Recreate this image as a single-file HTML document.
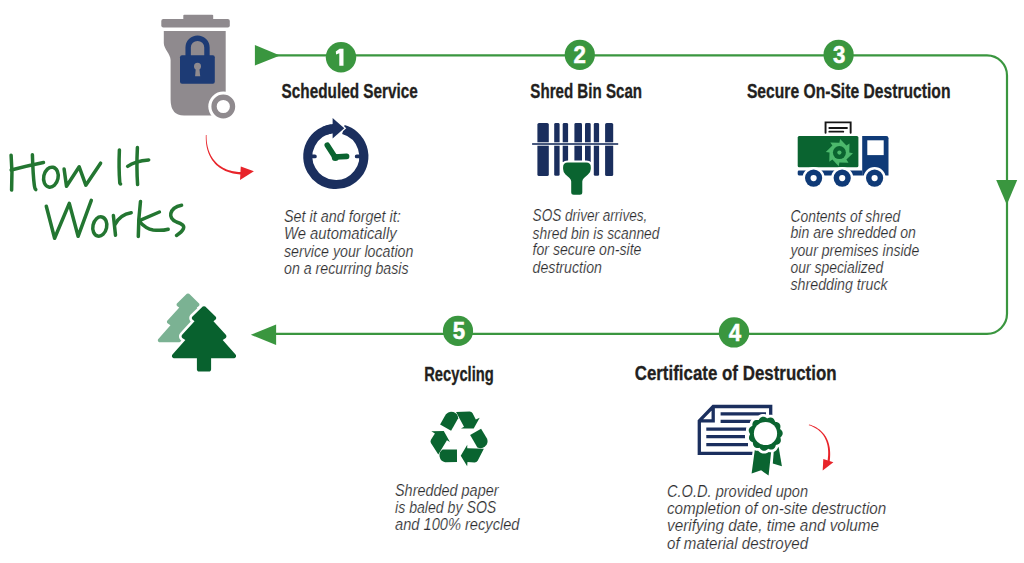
<!DOCTYPE html>
<html><head><meta charset="utf-8">
<style>
html,body{margin:0;padding:0;background:#fff;}
body{width:1024px;height:563px;overflow:hidden;position:relative;}
svg{position:absolute;left:0;top:0;}
.h{font-family:"Liberation Sans",sans-serif;font-weight:bold;font-size:19.5px;fill:#231f20;stroke:#231f20;stroke-width:0.3px;}
.b{font-family:"Liberation Sans",sans-serif;font-style:italic;font-size:16px;fill:#2c2c2e;stroke:#fff;stroke-width:0.18px;}
.n{font-family:"Liberation Sans",sans-serif;font-weight:bold;font-size:24.8px;fill:#fff;stroke:#fff;stroke-width:0.5px;}
</style></head>
<body>
<svg width="1024" height="563" viewBox="0 0 1024 563">
<!-- flow line -->
<g fill="none" stroke="#3a963f" stroke-width="2.2">
<path d="M270 55.4 H987 A20 20 0 0 1 1007 75.4 V313.8 A20 20 0 0 1 987 333.8 H262"/>
</g>
<g fill="#3a963f">
<polygon points="254.9,45 280,55.4 254.9,65.4"/>
<polygon points="996.2,180 1017.2,180 1006.8,204.8"/>
<polygon points="250.8,334.8 276.1,324.6 276.1,345"/>
<circle cx="341" cy="57.3" r="15.2"/>
<path d="M339.6 48.8 H343.5 V65.7 H339.3 V53.3 L336.1 54.6 L335.8 51.4 Z" fill="#fff"/>
<circle cx="579.8" cy="54.8" r="15.1"/>
<circle cx="838.6" cy="54.8" r="15.1"/>
<circle cx="734" cy="332.4" r="15.2"/>
<circle cx="458" cy="330.9" r="15.1"/>
</g>
<g class="n" text-anchor="middle">
<text x="579.75" y="63" textLength="12.4" lengthAdjust="spacingAndGlyphs">2</text>
<text x="839.2" y="62.9" textLength="12.4" lengthAdjust="spacingAndGlyphs">3</text>
<text x="734.85" y="340.5" textLength="12.4" lengthAdjust="spacingAndGlyphs">4</text>
<text x="458.9" y="338.7" textLength="12.4" lengthAdjust="spacingAndGlyphs">5</text>
</g>

<!-- headings -->
<text class="h" x="281.6" y="97.8" textLength="136.2" lengthAdjust="spacingAndGlyphs">Scheduled Service</text>
<text class="h" x="530.3" y="97.7" textLength="111.8" lengthAdjust="spacingAndGlyphs">Shred Bin Scan</text>
<text class="h" x="746.9" y="98.3" textLength="203.6" lengthAdjust="spacingAndGlyphs">Secure On-Site Destruction</text>
<text class="h" x="424.2" y="380.5" textLength="69.6" lengthAdjust="spacingAndGlyphs">Recycling</text>
<text class="h" x="634.7" y="380.3" textLength="201.9" lengthAdjust="spacingAndGlyphs">Certificate of Destruction</text>

<!-- body text -->
<g class="b">
<text x="284" y="222.3" textLength="116.7" lengthAdjust="spacingAndGlyphs">Set it and forget it:</text>
<text x="284" y="239.3" textLength="112.6" lengthAdjust="spacingAndGlyphs">We automatically</text>
<text x="284" y="256.5" textLength="129.4" lengthAdjust="spacingAndGlyphs">service your location</text>
<text x="284" y="273.8" textLength="124.6" lengthAdjust="spacingAndGlyphs">on a recurring basis</text>

<text x="532.6" y="221.2" textLength="114.7" lengthAdjust="spacingAndGlyphs">SOS driver arrives,</text>
<text x="532.6" y="238.5" textLength="126.9" lengthAdjust="spacingAndGlyphs">shred bin is scanned</text>
<text x="532.6" y="255.2" textLength="108.8" lengthAdjust="spacingAndGlyphs">for secure on-site</text>
<text x="532.6" y="272.8" textLength="69.3" lengthAdjust="spacingAndGlyphs">destruction</text>

<text x="790.5" y="221.5" textLength="109.6" lengthAdjust="spacingAndGlyphs">Contents of shred</text>
<text x="790.5" y="238.4" textLength="125.3" lengthAdjust="spacingAndGlyphs">bin are shredded on</text>
<text x="790.5" y="255.5" textLength="128.7" lengthAdjust="spacingAndGlyphs">your premises inside</text>
<text x="790.5" y="272.9" textLength="92.8" lengthAdjust="spacingAndGlyphs">our specialized</text>
<text x="790.5" y="289.8" textLength="97.1" lengthAdjust="spacingAndGlyphs">shredding truck</text>

<text x="395" y="495.9" textLength="103.5" lengthAdjust="spacingAndGlyphs">Shredded paper</text>
<text x="395" y="513.2" textLength="101.3" lengthAdjust="spacingAndGlyphs">is baled by SOS</text>
<text x="395" y="529.5" textLength="124.5" lengthAdjust="spacingAndGlyphs">and 100% recycled</text>

<text x="667" y="497.2" textLength="141.1" lengthAdjust="spacingAndGlyphs">C.O.D. provided upon</text>
<text x="667" y="514.3" textLength="219.2" lengthAdjust="spacingAndGlyphs">completion of on-site destruction</text>
<text x="667" y="531.4" textLength="212.1" lengthAdjust="spacingAndGlyphs">verifying date, time and volume</text>
<text x="667" y="548.8" textLength="141.1" lengthAdjust="spacingAndGlyphs">of material destroyed</text>
</g>

<!-- BIN -->
<g id="bin">
<rect x="183.3" y="14.8" width="29.9" height="5" rx="1" fill="#8f8a8e"/>
<rect x="161.3" y="18.9" width="68.5" height="8.6" rx="2" fill="#8f8a8e"/>
<path d="M163.8 31 H225.7 V115.5 H184 Q170.6 115.5 170.6 99.5 V60 C170.6 54 163.8 49 163.8 43 Z" fill="#8f8a8e"/>
<circle cx="223.3" cy="106.5" r="15" fill="#fff"/>
<circle cx="223.3" cy="106.5" r="9.25" fill="none" stroke="#8f8a8e" stroke-width="5.3"/>
<!-- lock -->
<path d="M188.15 56 V47.6 A9.4 9.4 0 0 1 206.95 47.6 V56" fill="none" stroke="#1d3b75" stroke-width="5.4"/>
<rect x="180" y="55.3" width="34.8" height="28.5" rx="2" fill="#1d3b75"/>
<circle cx="197.5" cy="66.2" r="3.5" fill="#8f8a8e"/>
<path d="M195.8 68 L195.1 76.3 H200.2 L199.3 68 Z" fill="#8f8a8e"/>
</g>

<!-- CLOCK -->
<g id="clock">
<path d="M343.38 129.54 A28 28 0 1 1 332.39 128.71" fill="none" stroke="#1b2f5e" stroke-width="9.2"/>
<polygon points="332.6,117.9 344.3,128.3 332.6,138.6" fill="none" stroke="#fff" stroke-width="2.6" stroke-linejoin="miter"/>
<path d="M323.97 131.12 A28 28 0 0 1 333.36 128.61" fill="none" stroke="#1b2f5e" stroke-width="9.2"/>
<polygon points="332.6,117.9 344.3,128.3 332.6,138.6" fill="#1b2f5e"/>
<path d="M311 156.4 H314.9 M356.7 156.4 H360.6" stroke="#1b2f5e" stroke-width="3.8" stroke-linecap="round"/>
<path d="M327.3 145.2 L334.9 157 L346.6 156.4" fill="none" stroke="#0a6430" stroke-width="5.6" stroke-linecap="round" stroke-linejoin="round"/>
<circle cx="335.3" cy="157.4" r="3.5" fill="#0a6430"/>
</g>
<!-- BARCODE -->
<g id="barcode" fill="#1a2e5d">
<rect x="537.4" y="123" width="11.4" height="53" rx="1.6"/>
<rect x="554.2" y="123" width="5.4" height="52.8" rx="1.4"/>
<rect x="562.7" y="123" width="5.4" height="40" rx="1.4"/>
<rect x="574.4" y="123" width="7.6" height="40" rx="1.4"/>
<rect x="585" y="123" width="5.7" height="40" rx="1.4"/>
<rect x="593.8" y="123" width="5.3" height="52.8" rx="1.4"/>
<rect x="605.1" y="123" width="8.1" height="53" rx="1.6"/>
<rect x="530" y="142.3" width="90" height="3.4" fill="#fff"/>
<rect x="532.1" y="143.2" width="86.1" height="1.6"/>
<path d="M567.8 162.4 H586.3 Q590.8 162.4 590.8 167 V169 Q590.8 172 588 174.5 L584 178 Q582.3 179.5 582.3 181.5 V192.3 Q582.3 194.8 579.8 194.8 H573.7 Q571.2 194.8 571.2 192.3 V181.5 Q571.2 179.5 569.5 178 L565.5 174.5 Q563.1 172 563.1 169 V167 Q563.1 162.4 567.8 162.4 Z" fill="#0a6430" stroke="#fff" stroke-width="4" paint-order="stroke"/>
</g>
<!-- TRUCK -->
<g id="truck">
<path d="M825.55 132.8 V122.35 H850.65 V132.8" fill="none" stroke="#161616" stroke-width="1.9" stroke-linecap="round"/>
<path d="M829.3 128 H847 M829.3 131.7 H843.3" stroke="#161616" stroke-width="1.8" stroke-linecap="round"/>
<rect x="797.7" y="136" width="60.7" height="31.3" rx="1.5" fill="#0a6430"/>
<path d="M839.40 142.70 L840.11 139.02 L846.40 145.60 L849.51 143.50 L849.30 152.60 L852.98 153.31 L846.40 159.60 L848.50 162.71 L839.40 162.50 L838.69 166.18 L832.40 159.60 L829.29 161.70 L829.50 152.60 L825.82 151.89 L832.40 145.60 L830.30 142.49 Z" fill="#4cb86c"/>
<circle cx="839.4" cy="152.6" r="6.5" fill="#0a6430"/>
<circle cx="839.4" cy="152.6" r="2.1" fill="#4cb86c"/>
<path d="M862.2 136 H886.3 Q888.5 136 888.5 138.2 V175.4 H862.2 Z" fill="#0f3a77"/>
<rect x="867.3" y="140.3" width="16.4" height="14.8" fill="#fff"/>
<path d="M799 170.6 H862.2 V175.4 H799 Q797.7 175.4 797.7 174 V172 Q797.7 170.6 799 170.6 Z" fill="#0f3a77"/>
<g fill="#0f3a77" stroke="#fff" stroke-width="5" paint-order="stroke">
<circle cx="813.6" cy="178.1" r="8.6"/>
<circle cx="842.2" cy="178.1" r="8.6"/>
<circle cx="874.6" cy="178.1" r="8.6"/>
</g>
<g fill="#fff">
<circle cx="813.6" cy="178.1" r="3.1"/>
<circle cx="842.2" cy="178.1" r="3.1"/>
<circle cx="874.6" cy="178.1" r="3.1"/>
</g>
</g>
<!-- CERTIFICATE -->
<g id="cert">
<path d="M699.3 420.8 L713.2 406.5 H770.7 V453.3 H699.3 Z M713.2 406.5 V420.8 H699.3" fill="none" stroke="#1b2f5e" stroke-width="3.3" stroke-linejoin="miter"/>
<g stroke="#1b2f5e" stroke-width="3.2">
<path d="M720.6 413.8 H766 M720.6 421.3 H760 M706.3 429.2 H746.5 M706.3 436.7 H745 M706.3 444.6 H748"/>
</g>
<g fill="#0a6430" stroke="#fff" stroke-width="4" paint-order="stroke" stroke-linejoin="round">
<polygon points="774.2,446 778.4,445.4 781.9,466.2 772.8,463.6"/>
<polygon points="755.2,447 771.4,449.5 768.6,475.6 761.1,470.3 751.6,473.6"/>
</g>
<path d="M782.67 433.70 L782.64 433.94 L782.59 434.19 L782.53 434.43 L782.45 434.67 L782.36 434.91 L782.26 435.14 L782.14 435.37 L782.01 435.59 L781.87 435.82 L781.72 436.03 L781.56 436.24 L781.40 436.45 L781.22 436.65 L781.04 436.85 L780.85 437.04 L780.66 437.23 L780.46 437.41 L780.33 437.60 L780.42 437.85 L780.50 438.10 L780.57 438.36 L780.64 438.62 L780.70 438.88 L780.75 439.14 L780.79 439.40 L780.82 439.67 L780.84 439.93 L780.85 440.19 L780.85 440.45 L780.83 440.70 L780.80 440.96 L780.76 441.20 L780.71 441.45 L780.64 441.69 L780.56 441.92 L780.46 442.15 L780.35 442.37 L780.23 442.58 L780.09 442.79 L779.95 442.98 L779.78 443.17 L779.61 443.35 L779.43 443.52 L779.24 443.68 L779.03 443.83 L778.82 443.97 L778.60 444.10 L778.37 444.22 L778.13 444.33 L777.89 444.43 L777.64 444.53 L777.39 444.61 L777.13 444.68 L776.87 444.75 L776.61 444.81 L776.35 444.86 L776.09 444.91 L775.87 445.00 L775.80 445.25 L775.74 445.51 L775.66 445.77 L775.58 446.02 L775.49 446.27 L775.39 446.52 L775.28 446.77 L775.17 447.00 L775.04 447.23 L774.91 447.46 L774.76 447.67 L774.61 447.88 L774.45 448.08 L774.28 448.26 L774.10 448.44 L773.92 448.60 L773.72 448.76 L773.52 448.90 L773.31 449.02 L773.09 449.13 L772.86 449.23 L772.63 449.32 L772.40 449.39 L772.16 449.45 L771.91 449.49 L771.66 449.52 L771.41 449.54 L771.15 449.54 L770.89 449.53 L770.64 449.51 L770.38 449.47 L770.12 449.43 L769.86 449.37 L769.60 449.30 L769.35 449.23 L769.09 449.14 L768.84 449.05 L768.59 448.95 L768.35 448.85 L768.11 448.81 L767.92 448.99 L767.72 449.17 L767.52 449.35 L767.31 449.51 L767.10 449.68 L766.89 449.83 L766.66 449.98 L766.44 450.12 L766.21 450.24 L765.98 450.36 L765.74 450.46 L765.50 450.56 L765.26 450.64 L765.01 450.70 L764.77 450.75 L764.52 450.79 L764.28 450.81 L764.03 450.82 L763.78 450.81 L763.54 450.79 L763.30 450.75 L763.06 450.70 L762.82 450.63 L762.58 450.55 L762.35 450.45 L762.13 450.34 L761.91 450.22 L761.69 450.08 L761.48 449.93 L761.27 449.77 L761.08 449.60 L760.88 449.43 L760.70 449.24 L760.51 449.04 L760.34 448.84 L760.17 448.63 L760.01 448.42 L759.85 448.20 L759.70 447.98 L759.53 447.82 L759.27 447.87 L759.01 447.92 L758.74 447.96 L758.48 447.99 L758.21 448.01 L757.94 448.02 L757.68 448.02 L757.41 448.02 L757.15 448.00 L756.89 447.97 L756.64 447.93 L756.39 447.88 L756.14 447.82 L755.90 447.74 L755.67 447.65 L755.44 447.55 L755.22 447.43 L755.01 447.31 L754.81 447.17 L754.61 447.02 L754.43 446.85 L754.26 446.68 L754.09 446.49 L753.94 446.30 L753.80 446.09 L753.67 445.88 L753.55 445.65 L753.44 445.42 L753.34 445.18 L753.26 444.94 L753.18 444.69 L753.11 444.43 L753.06 444.17 L753.01 443.91 L752.97 443.65 L752.94 443.38 L752.92 443.12 L752.91 442.85 L752.90 442.58 L752.84 442.35 L752.60 442.26 L752.35 442.15 L752.11 442.04 L751.87 441.92 L751.63 441.79 L751.40 441.66 L751.18 441.52 L750.96 441.37 L750.75 441.22 L750.54 441.05 L750.35 440.88 L750.17 440.70 L749.99 440.52 L749.83 440.32 L749.69 440.12 L749.55 439.91 L749.43 439.70 L749.32 439.47 L749.22 439.25 L749.14 439.02 L749.08 438.78 L749.02 438.54 L748.99 438.29 L748.97 438.05 L748.96 437.80 L748.96 437.55 L748.98 437.29 L749.02 437.04 L749.06 436.79 L749.12 436.53 L749.19 436.28 L749.28 436.03 L749.37 435.78 L749.47 435.54 L749.58 435.30 L749.70 435.06 L749.83 434.82 L749.96 434.59 L750.10 434.36 L750.17 434.14 L750.02 433.92 L749.87 433.70 L749.73 433.47 L749.59 433.25 L749.46 433.01 L749.33 432.78 L749.22 432.54 L749.12 432.29 L749.02 432.05 L748.94 431.80 L748.87 431.55 L748.82 431.30 L748.77 431.05 L748.74 430.80 L748.73 430.55 L748.72 430.30 L748.74 430.05 L748.77 429.81 L748.81 429.57 L748.87 429.33 L748.94 429.09 L749.02 428.86 L749.13 428.64 L749.24 428.42 L749.37 428.20 L749.51 427.99 L749.66 427.79 L749.83 427.60 L750.00 427.41 L750.19 427.23 L750.39 427.06 L750.59 426.89 L750.80 426.73 L751.02 426.58 L751.25 426.44 L751.48 426.30 L751.71 426.17 L751.95 426.05 L752.19 425.93 L752.37 425.78 L752.36 425.52 L752.35 425.25 L752.35 424.98 L752.36 424.71 L752.38 424.45 L752.40 424.18 L752.43 423.92 L752.48 423.66 L752.53 423.40 L752.60 423.15 L752.67 422.90 L752.76 422.66 L752.86 422.43 L752.97 422.20 L753.09 421.98 L753.22 421.77 L753.37 421.57 L753.53 421.38 L753.69 421.20 L753.87 421.03 L754.06 420.87 L754.26 420.72 L754.46 420.59 L754.68 420.46 L754.90 420.35 L755.13 420.26 L755.37 420.17 L755.61 420.09 L755.86 420.03 L756.12 419.98 L756.38 419.94 L756.64 419.91 L756.90 419.89 L757.17 419.88 L757.44 419.88 L757.70 419.89 L757.97 419.91 L758.24 419.93 L758.50 419.96 L758.73 419.94 L758.87 419.71 L759.01 419.48 L759.15 419.26 L759.30 419.04 L759.46 418.82 L759.63 418.61 L759.80 418.41 L759.97 418.21 L760.16 418.03 L760.35 417.85 L760.55 417.68 L760.75 417.53 L760.96 417.38 L761.18 417.25 L761.40 417.13 L761.62 417.03 L761.85 416.94 L762.09 416.86 L762.33 416.80 L762.57 416.75 L762.81 416.72 L763.06 416.70 L763.30 416.70 L763.55 416.71 L763.80 416.74 L764.05 416.78 L764.29 416.84 L764.54 416.91 L764.78 416.99 L765.03 417.09 L765.26 417.19 L765.50 417.31 L765.73 417.44 L765.96 417.57 L766.19 417.72 L766.41 417.87 L766.62 418.03 L766.83 418.19 L767.04 418.36 L767.25 418.47 L767.48 418.35 L767.72 418.23 L767.97 418.12 L768.21 418.01 L768.46 417.92 L768.72 417.83 L768.97 417.75 L769.22 417.68 L769.48 417.63 L769.74 417.58 L769.99 417.55 L770.25 417.53 L770.50 417.52 L770.76 417.52 L771.01 417.54 L771.25 417.58 L771.50 417.63 L771.73 417.69 L771.97 417.77 L772.20 417.86 L772.42 417.96 L772.63 418.08 L772.84 418.21 L773.04 418.36 L773.24 418.52 L773.42 418.68 L773.60 418.87 L773.77 419.06 L773.93 419.26 L774.08 419.47 L774.23 419.69 L774.36 419.91 L774.49 420.14 L774.61 420.38 L774.72 420.63 L774.82 420.87 L774.92 421.12 L775.00 421.37 L775.09 421.63 L775.21 421.83 L775.47 421.86 L775.74 421.89 L776.00 421.93 L776.26 421.97 L776.53 422.03 L776.78 422.09 L777.04 422.16 L777.29 422.24 L777.54 422.33 L777.78 422.43 L778.01 422.54 L778.24 422.66 L778.46 422.79 L778.67 422.93 L778.87 423.09 L779.05 423.25 L779.23 423.42 L779.40 423.60 L779.56 423.79 L779.70 423.99 L779.83 424.20 L779.95 424.42 L780.05 424.64 L780.14 424.87 L780.22 425.11 L780.28 425.35 L780.33 425.60 L780.37 425.85 L780.40 426.11 L780.41 426.37 L780.42 426.63 L780.41 426.89 L780.39 427.16 L780.36 427.42 L780.32 427.68 L780.28 427.95 L780.22 428.21 L780.16 428.47 L780.09 428.73 L780.08 428.96 L780.29 429.13 L780.50 429.30 L780.70 429.47 L780.90 429.65 L781.09 429.84 L781.27 430.03 L781.45 430.23 L781.62 430.43 L781.77 430.64 L781.92 430.86 L782.06 431.08 L782.18 431.30 L782.30 431.53 L782.40 431.76 L782.48 432.00 L782.55 432.24 L782.61 432.48 L782.65 432.72 L782.68 432.96 L782.69 433.21 L782.69 433.45Z" fill="#0a6430" stroke="#fff" stroke-width="5.6" paint-order="stroke"/>
<circle cx="765.5" cy="433.5" r="11.6" fill="#fff"/>
</g>
<!-- RECYCLE -->
<g id="recycle" fill="#0a6430">
<g id="rc1">
<path d="M440.1 424.5 L445.9 414.2 A7 7 0 0 1 458.2 418.3 L451.1 430.8 Z"/>
<path d="M456.05 412.1 L469.6 411.4 Q471.6 411.5 472.6 413.3 L475.8 419.6 L479.7 417.7 L473.7 428.6 L461 428.4 L464 426.7 Z"/>
</g>
<g transform="rotate(120 459.4 438.4)">
<path d="M440.1 424.5 L445.9 414.2 A7 7 0 0 1 458.2 418.3 L451.1 430.8 Z"/>
<path d="M456.05 412.1 L469.6 411.4 Q471.6 411.5 472.6 413.3 L475.8 419.6 L479.7 417.7 L473.7 428.6 L461 428.4 L464 426.7 Z"/>
</g>
<g transform="rotate(240 459.4 438.4)">
<path d="M440.1 424.5 L445.9 414.2 A7 7 0 0 1 458.2 418.3 L451.1 430.8 Z"/>
<path d="M456.05 412.1 L469.6 411.4 Q471.6 411.5 472.6 413.3 L475.8 419.6 L479.7 417.7 L473.7 428.6 L461 428.4 L464 426.7 Z"/>
</g>
</g>
<!-- TREES -->
<path d="M170.50 325.26 L170.45 325.33 L158.35 338.93 L158.12 339.24 L157.95 339.60 L157.85 339.99 L157.83 340.38 L157.88 340.77 L158.01 341.15 L158.21 341.49 L158.46 341.79 L158.77 342.04 L159.12 342.22 L159.50 342.33 L159.90 342.37 L181.22 342.37 L181.32 342.38 L181.33 342.47 L181.33 352.90 L181.37 353.30 L181.48 353.69 L181.67 354.04 L181.93 354.36 L182.25 354.62 L182.60 354.81 L182.99 354.92 L183.39 354.96 L192.61 354.96 L193.01 354.92 L193.40 354.81 L193.75 354.62 L194.07 354.36 L194.33 354.04 L194.52 353.69 L194.63 353.30 L194.67 352.90 L194.67 342.47 L194.68 342.38 L194.78 342.37 L216.10 342.37 L216.50 342.33 L216.88 342.22 L217.23 342.04 L217.54 341.79 L217.79 341.49 L217.99 341.15 L218.12 340.77 L218.17 340.38 L218.15 339.99 L218.05 339.60 L217.88 339.24 L217.65 338.93 L205.55 325.33 L205.50 325.26 L205.57 325.21 L208.12 323.57 L208.43 323.33 L208.69 323.02 L208.89 322.68 L209.02 322.30 L209.07 321.90 L209.05 321.51 L208.95 321.12 L208.77 320.76 L208.53 320.44 L196.90 307.66 L196.85 307.59 L196.91 307.53 L198.60 306.31 L198.90 306.05 L199.14 305.73 L199.32 305.37 L199.42 304.98 L199.45 304.58 L199.40 304.18 L199.27 303.80 L199.08 303.45 L198.82 303.15 L189.43 294.12 L189.12 293.87 L188.77 293.69 L188.39 293.58 L188.00 293.54 L187.61 293.58 L187.23 293.69 L186.88 293.87 L186.57 294.12 L177.18 303.15 L176.92 303.45 L176.73 303.80 L176.60 304.18 L176.55 304.58 L176.58 304.98 L176.68 305.37 L176.86 305.73 L177.10 306.05 L177.40 306.31 L179.09 307.53 L179.15 307.59 L179.10 307.66 L167.47 320.44 L167.23 320.76 L167.05 321.12 L166.95 321.51 L166.93 321.90 L166.98 322.30 L167.11 322.68 L167.31 323.02 L167.57 323.33 L167.88 323.57 L170.43 325.21 L170.50 325.26Z" fill="#7bb293"/>
<path d="M181.43 340.55 L170.52 352.81 L170.36 353.00 L170.11 353.34 L169.86 353.77 L169.68 354.15 L169.51 354.62 L169.41 355.03 L169.33 355.52 L169.31 355.94 L169.33 356.43 L169.39 356.85 L169.50 357.33 L169.63 357.73 L169.84 358.19 L170.04 358.55 L170.33 358.96 L170.60 359.28 L170.96 359.62 L171.29 359.88 L171.71 360.15 L172.08 360.35 L172.54 360.53 L172.95 360.65 L173.44 360.75 L173.85 360.79 L174.10 360.80 L194.30 360.80 L194.30 369.40 L194.31 369.65 L194.35 370.08 L194.45 370.58 L194.58 371.00 L194.77 371.47 L194.98 371.85 L195.26 372.27 L195.53 372.61 L195.89 372.97 L196.23 373.24 L196.65 373.52 L197.03 373.73 L197.50 373.92 L197.92 374.05 L198.42 374.15 L198.85 374.19 L199.10 374.20 L208.90 374.20 L209.15 374.19 L209.58 374.15 L210.08 374.05 L210.50 373.92 L210.97 373.73 L211.35 373.52 L211.77 373.24 L212.11 372.97 L212.47 372.61 L212.74 372.27 L213.02 371.85 L213.23 371.47 L213.42 371.00 L213.55 370.58 L213.65 370.08 L213.69 369.65 L213.70 369.40 L213.70 360.80 L233.90 360.80 L234.15 360.79 L234.56 360.75 L235.05 360.65 L235.46 360.53 L235.92 360.35 L236.29 360.15 L236.71 359.88 L237.04 359.62 L237.40 359.28 L237.67 358.96 L237.96 358.55 L238.16 358.19 L238.37 357.73 L238.50 357.33 L238.61 356.85 L238.67 356.43 L238.69 355.94 L238.67 355.52 L238.59 355.03 L238.49 354.62 L238.32 354.15 L238.14 353.77 L237.89 353.34 L237.64 353.00 L237.48 352.81 L226.57 340.55 L226.81 340.40 L227.01 340.25 L227.34 339.99 L227.71 339.64 L227.98 339.32 L228.27 338.91 L228.48 338.54 L228.69 338.08 L228.82 337.68 L228.94 337.19 L228.99 336.77 L229.01 336.27 L228.99 335.84 L228.91 335.35 L228.80 334.94 L228.63 334.47 L228.44 334.08 L228.18 333.66 L227.93 333.32 L227.77 333.12 L217.25 321.57 L217.31 321.51 L217.66 321.14 L217.92 320.80 L218.18 320.37 L218.37 319.99 L218.55 319.52 L218.66 319.10 L218.74 318.61 L218.77 318.18 L218.76 317.68 L218.71 317.25 L218.60 316.76 L218.46 316.36 L218.26 315.90 L218.05 315.52 L217.76 315.11 L217.48 314.79 L217.31 314.60 L207.33 305.00 L207.14 304.83 L206.81 304.57 L206.39 304.30 L206.02 304.11 L205.56 303.92 L205.16 303.80 L204.67 303.71 L204.25 303.67 L203.75 303.67 L203.33 303.71 L202.84 303.80 L202.44 303.92 L201.98 304.11 L201.61 304.30 L201.19 304.57 L200.86 304.83 L200.67 305.00 L190.69 314.60 L190.52 314.79 L190.24 315.11 L189.95 315.52 L189.74 315.90 L189.54 316.36 L189.40 316.76 L189.29 317.25 L189.24 317.68 L189.23 318.18 L189.26 318.61 L189.34 319.10 L189.45 319.52 L189.63 319.99 L189.82 320.37 L190.08 320.80 L190.34 321.14 L190.69 321.51 L190.75 321.57 L180.23 333.12 L180.07 333.32 L179.82 333.66 L179.56 334.08 L179.37 334.47 L179.20 334.94 L179.09 335.35 L179.01 335.84 L178.99 336.27 L179.01 336.77 L179.06 337.19 L179.18 337.68 L179.31 338.08 L179.52 338.54 L179.73 338.91 L180.02 339.32 L180.29 339.64 L180.66 339.99 L180.99 340.25 L181.19 340.40 L181.43 340.55Z" fill="#fff"/>
<path d="M185.39 340.00 L185.33 340.08 L172.46 354.54 L172.21 354.88 L172.03 355.26 L171.93 355.67 L171.91 356.09 L171.96 356.50 L172.10 356.90 L172.30 357.27 L172.58 357.59 L172.91 357.85 L173.28 358.04 L173.68 358.16 L174.10 358.20 L196.79 358.20 L196.89 358.21 L196.90 358.31 L196.90 369.40 L196.94 369.83 L197.07 370.24 L197.27 370.62 L197.54 370.96 L197.88 371.23 L198.26 371.43 L198.67 371.56 L199.10 371.60 L208.90 371.60 L209.33 371.56 L209.74 371.43 L210.12 371.23 L210.46 370.96 L210.73 370.62 L210.93 370.24 L211.06 369.83 L211.10 369.40 L211.10 358.31 L211.11 358.21 L211.21 358.20 L233.90 358.20 L234.32 358.16 L234.72 358.04 L235.09 357.85 L235.42 357.59 L235.70 357.27 L235.90 356.90 L236.04 356.50 L236.09 356.09 L236.07 355.67 L235.97 355.26 L235.79 354.88 L235.54 354.54 L222.67 340.08 L222.61 340.00 L222.69 339.94 L225.40 338.21 L225.74 337.94 L226.01 337.62 L226.23 337.25 L226.36 336.85 L226.42 336.43 L226.39 336.01 L226.28 335.59 L226.10 335.21 L225.84 334.87 L213.47 321.28 L213.41 321.20 L213.48 321.14 L215.27 319.84 L215.59 319.56 L215.85 319.22 L216.04 318.84 L216.15 318.43 L216.18 318.00 L216.13 317.58 L215.99 317.17 L215.78 316.80 L215.51 316.48 L205.53 306.87 L205.20 306.61 L204.82 306.41 L204.42 306.29 L204.00 306.25 L203.58 306.29 L203.18 306.41 L202.80 306.61 L202.47 306.87 L192.49 316.48 L192.22 316.80 L192.01 317.17 L191.87 317.58 L191.82 318.00 L191.85 318.43 L191.96 318.84 L192.15 319.22 L192.41 319.56 L192.73 319.84 L194.52 321.14 L194.59 321.20 L194.53 321.28 L182.16 334.87 L181.90 335.21 L181.72 335.59 L181.61 336.01 L181.58 336.43 L181.64 336.85 L181.77 337.25 L181.99 337.62 L182.26 337.94 L182.60 338.21 L185.31 339.94 L185.39 340.00Z" fill="#08612e"/>

<!-- RED ARROWS -->
<g fill="#e8242a">
<path d="M205.85 135.09 L205.80 136.66 L205.79 138.21 L205.84 139.75 L205.92 141.27 L206.06 142.78 L206.24 144.26 L206.47 145.72 L206.75 147.16 L207.07 148.58 L207.44 149.98 L207.87 151.35 L208.34 152.69 L208.85 154.01 L209.42 155.30 L210.04 156.56 L210.71 157.78 L211.42 158.98 L212.19 160.14 L213.01 161.27 L213.87 162.36 L214.79 163.41 L215.76 164.42 L216.79 165.40 L217.86 166.33 L218.98 167.22 L220.16 168.06 L221.38 168.86 L222.66 169.61 L223.99 170.31 L225.37 170.97 L226.80 171.57 L228.28 172.12 L229.82 172.62 L231.40 173.06 L233.04 173.44 L234.72 173.77 L236.46 174.05 L238.25 174.26 L240.09 174.41 L241.98 174.50 L242.02 172.10 L240.21 172.06 L238.45 171.95 L236.74 171.79 L235.08 171.57 L233.47 171.30 L231.91 170.97 L230.40 170.59 L228.93 170.16 L227.52 169.68 L226.15 169.15 L224.83 168.57 L223.56 167.95 L222.33 167.27 L221.15 166.56 L220.02 165.79 L218.94 164.99 L217.90 164.14 L216.90 163.25 L215.95 162.32 L215.05 161.34 L214.19 160.33 L213.38 159.29 L212.61 158.20 L211.89 157.08 L211.22 155.92 L210.59 154.73 L210.00 153.51 L209.46 152.25 L208.97 150.97 L208.52 149.65 L208.12 148.31 L207.76 146.94 L207.45 145.54 L207.18 144.11 L206.96 142.67 L206.79 141.20 L206.66 139.70 L206.58 138.19 L206.54 136.66 L206.55 135.11Z"/>
<polygon points="240.8,166.6 253.9,171.3 240,180"/>
<path d="M808.80 425.14 L809.83 425.48 L810.84 425.85 L811.82 426.25 L812.78 426.68 L813.72 427.14 L814.63 427.63 L815.52 428.14 L816.38 428.68 L817.21 429.25 L818.01 429.85 L818.79 430.47 L819.54 431.13 L820.27 431.81 L820.96 432.51 L821.63 433.25 L822.26 434.01 L822.87 434.80 L823.44 435.62 L823.99 436.47 L824.50 437.34 L824.98 438.24 L825.43 439.17 L825.85 440.13 L826.23 441.12 L826.58 442.13 L826.90 443.17 L827.19 444.25 L827.43 445.35 L827.65 446.48 L827.83 447.63 L827.97 448.82 L828.07 450.04 L828.14 451.29 L828.17 452.56 L828.16 453.87 L828.11 455.20 L828.02 456.57 L827.89 457.96 L827.72 459.39 L827.51 460.84 L829.69 461.16 L829.87 459.64 L830.01 458.16 L830.10 456.70 L830.16 455.28 L830.17 453.88 L830.14 452.52 L830.07 451.18 L829.96 449.88 L829.82 448.60 L829.63 447.36 L829.41 446.15 L829.14 444.96 L828.84 443.81 L828.51 442.69 L828.13 441.60 L827.72 440.54 L827.28 439.51 L826.80 438.51 L826.29 437.54 L825.75 436.61 L825.17 435.70 L824.57 434.83 L823.93 433.99 L823.26 433.18 L822.56 432.40 L821.84 431.66 L821.08 430.94 L820.30 430.26 L819.49 429.61 L818.65 428.98 L817.79 428.39 L816.91 427.83 L816.00 427.31 L815.06 426.81 L814.11 426.34 L813.13 425.91 L812.13 425.50 L811.11 425.12 L810.06 424.78 L809.00 424.46Z"/>
<polygon points="823.3,459.1 833.4,462.3 822.7,470.6"/>
</g>

<!-- HOW IT WORKS -->
<g fill="none" stroke="#237631" stroke-width="3.5" stroke-linecap="round" stroke-linejoin="round">
<path d="M11.1 155.2 Q12.6 172 11.6 190.1"/>
<path d="M32.4 154.7 Q33 175 34.3 185 Q34.8 189 35.8 189.6"/>
<path d="M11.2 170 Q27 165.8 43.5 162.5"/>
<ellipse cx="50.9" cy="177.2" rx="7.2" ry="10.1" transform="rotate(12 50.9 177.2)"/>
<path d="M64.1 169 L66.5 186.2 L79.2 166.8 L85.8 185.2 L100.6 163.2"/>
<path d="M119.4 149.9 Q118.6 168 119.8 183 Q120.1 184.1 120.6 184.1"/>
<path d="M137.4 147.6 Q136.4 168 137.6 184.6"/>
<path d="M127.6 166.3 Q135 160.8 148.7 159.9"/>
<path d="M46.3 206.3 L54.6 238.3 L69.3 203.4 L78.1 236.3 L91.3 200.4"/>
<ellipse cx="99.8" cy="226.5" rx="6.9" ry="9.8" transform="rotate(12 99.8 226.5)"/>
<path d="M113.4 215.6 Q114.5 226 115.5 235.3"/>
<path d="M115.2 224.2 Q120 214.8 131.2 212.8"/>
<path d="M140.5 201.4 Q138.3 219 138.3 236.6"/>
<path d="M159.4 212 L138.8 220.8 Q146 229 153.1 230 Q162 231 168.2 229.2"/>
<path d="M181.6 205.3 Q172.5 207 170.8 213.5 Q169.8 219 176.5 222 Q185 224.5 183.5 228.5 Q182 232 176.5 235.4"/>
</g>
<!-- ICONS placeholder -->
</svg>
</body></html>
